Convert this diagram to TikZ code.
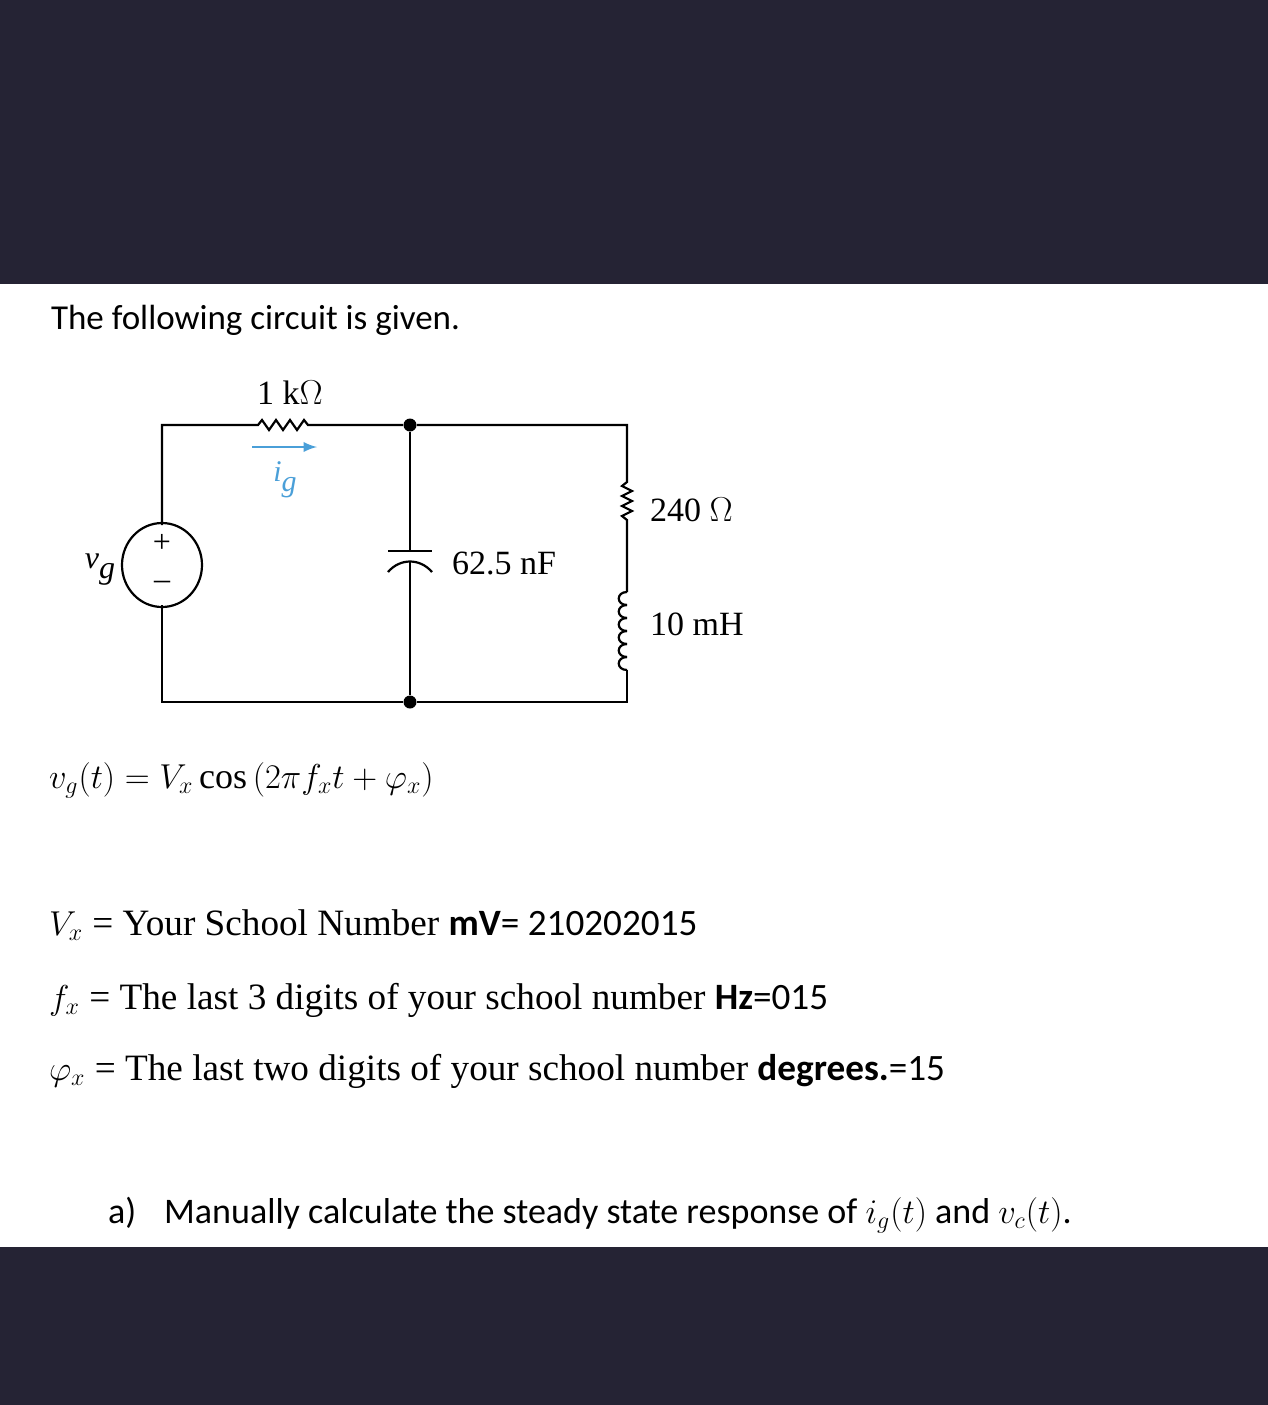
\documentclass[tikz,border=0pt]{standalone}
\usepackage{fontspec}
\usetikzlibrary{shapes.geometric}
\setmainfont{Liberation Serif}
\newfontfamily\calfont{Carlito}
\definecolor{bgdark}{HTML}{252334}
\definecolor{ibl}{HTML}{4A9FD8}
\begin{document}
\begin{tikzpicture}[x=0.5pt,y=-0.5pt,wire/.style={line width=1.1pt},dot/.style={circle,fill,inner sep=0pt,minimum size=6.5pt}]
\useasboundingbox (0,0) rectangle (1268,1405);
\fill[bgdark] (0,0) rectangle (1268,284);
\fill[bgdark] (0,1247) rectangle (1268,1405);
\node[anchor=west,font=\calfont\fontsize{17.5}{18}\selectfont] (t1) at (44,320) {The following circuit is given.};
% circuit
\coordinate (tl) at (162,425); \coordinate (bl) at (162,702);
\node[dot] (ntop) at (410,425) {}; \node[dot] (nbot) at (410,702) {};
\coordinate (tr) at (627,425); \coordinate (br) at (627,702);
\draw[wire] (162,525) -- (tl) -- (258,425) -- ++(4,-5) -- ++(7,10) -- ++(7,-10) -- ++(7,10) -- ++(7,-10) -- ++(7,10) -- ++(7,-10) -- ++(4,5) -- (ntop) -- (tr) -- (627,482)
 -- ++(-5,4) -- ++(10,5) -- ++(-10,5) -- ++(10,5) -- ++(-10,5) -- ++(10,5) -- ++(-10,5) -- ++(5,4) -- (627,592);
\foreach \i in {0,...,5}{
  \draw[wire] (627,592+13*\i) .. controls (616,592+13*\i) and (616,605+13*\i) .. (627,605+13*\i);
}
\draw[wire] (627,670) -- (br) -- (nbot) -- (bl) -- (162,605);
\node[draw,wire,ellipse,minimum width=40pt,minimum height=42pt,inner sep=0pt] (src) at (162,565) {};
\node[font=\fontsize{16}{16}\selectfont] at (162,543) {+};
\node[font=\fontsize{16}{16}\selectfont] at (162,585) {--};
\draw[wire] (ntop) -- (410,551);
\draw[wire] (388,551) -- (432,551);
\draw[wire] (388,572) .. controls (400,558) and (420,558) .. (432,572);
\draw[wire] (410,562) -- (nbot);
\draw[ibl,line width=1.3pt,-latex] (252,447) -- (317,447);
\node[ibl,font=\itshape\fontsize{15}{15}\selectfont] at (285,480) {i\raisebox{-5pt}{g}};
\node[font=\itshape\fontsize{16}{16}\selectfont] at (100,570) {v\raisebox{-5pt}{g}};
\node[font=\fontsize{17}{17}\selectfont] at (290,393) {1 k$\Omega$};
\node[anchor=west,font=\fontsize{17}{17}\selectfont] at (445,563) {62.5 nF};
\node[anchor=west,font=\fontsize{17}{17}\selectfont] at (643,510) {240 $\Omega$};
\node[anchor=west,font=\fontsize{17}{17}\selectfont] at (643,624) {10 mH};
% equations
\node[anchor=west,font=\fontsize{18}{19}\selectfont] at (42,780) {$v_g(t) = V_x\cos\left(2\pi f_x t + \varphi_x\right)$};
\node[anchor=west,font=\fontsize{18.6}{18}\selectfont] at (42,925) {$V_x$ = Your School Number {\calfont\bfseries mV}{\calfont = 210202015}};
\node[anchor=west,font=\fontsize{18.6}{18}\selectfont] at (42,1000) {$f_x$ = The last 3 digits of your school number {\calfont\bfseries Hz}{\calfont =015}};
\node[anchor=west,font=\fontsize{18.6}{18}\selectfont] at (42,1071) {$\varphi_x$ = The last two digits of your school number {\calfont\bfseries degrees.}{\calfont =15}};
\node[anchor=west,font=\calfont\fontsize{18}{18}\selectfont] at (101,1215) {a)\hspace{14pt}Manually calculate the steady state response of $i_g(t)$ and $v_c(t)$.};
\end{tikzpicture}
\end{document}
